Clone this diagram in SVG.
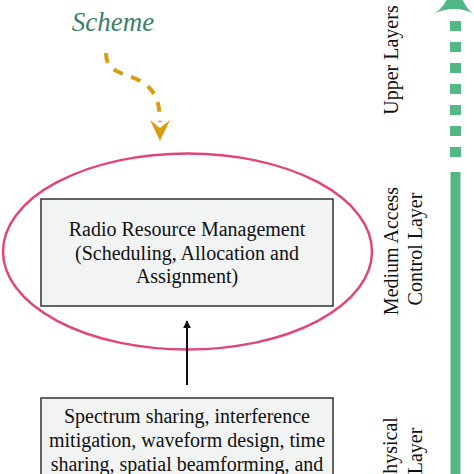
<svg xmlns="http://www.w3.org/2000/svg" width="474" height="474" viewBox="0 0 474 474">
<defs>
<style>
.t{font-family:"Liberation Serif","Times New Roman",serif;font-size:20px;fill:#111;text-anchor:middle}
.box{fill:#f2f3f3;stroke:#333;stroke-width:1.5}
</style>
<marker id="blk" viewBox="0 0 10 10" refX="9" refY="5" markerWidth="8" markerHeight="8" markerUnits="userSpaceOnUse" orient="auto">
<path d="M0,0 L10,5 L0,10 Z" fill="#111"/>
</marker>
</defs>
<rect width="474" height="474" fill="#fff"/>
<g id="scheme">
<text x="113" y="31" font-family="'Liberation Serif','Times New Roman',serif" font-style="italic" font-size="27" fill="#3d7f6a" text-anchor="middle">Scheme</text>
</g>
<g id="rrm">
<ellipse cx="187.5" cy="251.5" rx="184.5" ry="98" fill="none" stroke="#e0467c" stroke-width="2.5"/>
<rect class="box" x="41" y="199" width="292" height="107"/>
<text class="t" x="187" y="236">Radio Resource Management</text>
<text class="t" x="187" y="259.5">(Scheduling, Allocation and</text>
<text class="t" x="187" y="283">Assignment)</text>
</g>
<g id="phy">
<rect class="box" x="41" y="398" width="292" height="110"/>
<text class="t" x="187" y="423">Spectrum sharing, interference</text>
<text class="t" x="187" y="447">mitigation, waveform design, time</text>
<text class="t" x="187" y="471">sharing, spatial beamforming, and</text>
</g>
<g id="layers" class="t">
<text class="t" transform="translate(398,60) rotate(-90)">Upper Layers</text>
<text class="t" transform="translate(398,251) rotate(-90)">Medium Access</text>
<text class="t" transform="translate(422,249) rotate(-90)">Control Layer</text>
<text class="t" transform="translate(397,451) rotate(-90)">Physical</text>
<text class="t" transform="translate(422,451) rotate(-90)">Layer</text>
</g>
<g id="connectors">
<line x1="187" y1="385" x2="187" y2="321" stroke="#111" stroke-width="2" marker-end="url(#blk)"/>
<path d="M106,53 C106,70 118,72 134,78 C154,86 160,100 160,122" fill="none" stroke="#d69e10" stroke-width="4" stroke-dasharray="10,9"/>
<path d="M150,120 L160,128 L170,120 L160,141 Z" fill="#d69e10"/>
<line x1="455.5" y1="21" x2="455.5" y2="158" stroke="#54b886" stroke-width="11" stroke-dasharray="10,11"/>
<line x1="455.5" y1="172" x2="455.5" y2="474" stroke="#54b886" stroke-width="10"/>
<path d="M433,14 Q447,8 455,-22 Q463,8 474,14 Q455,4 433,14 Z" fill="#54b886"/>
</g>
</svg>
